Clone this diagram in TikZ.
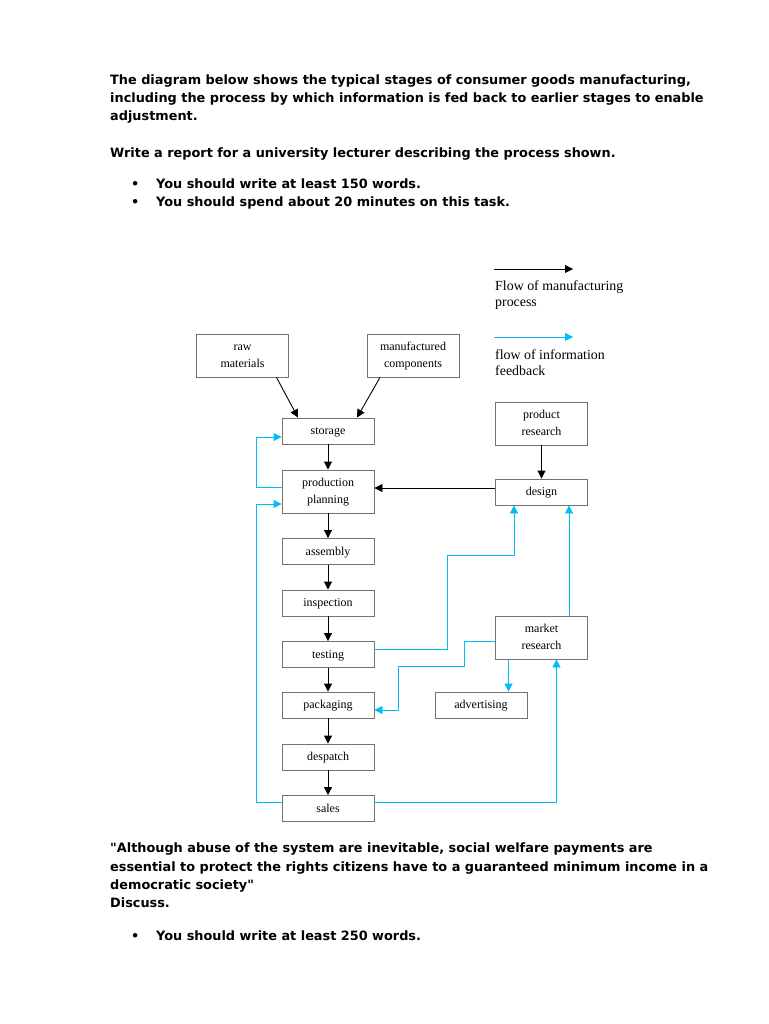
\documentclass[tikz,border=0pt]{standalone}
\usepackage{fontspec}
\setmainfont{Liberation Serif}
\newfontfamily\headfont{DejaVu Sans}
\usetikzlibrary{arrows.meta}
\definecolor{feedblue}{RGB}{0,190,245}

\newcommand{\twolines}[2]{\rule{0pt}{10pt}#1\\#2\rule[-3pt]{0pt}{3pt}}

\tikzset{
	box/.style={draw=black!55,line width=0.9pt,minimum width=92pt,inner sep=0pt,font=\fontsize{12}{17.5}\selectfont},
	stage/.style={box,minimum height=26pt,text height=10pt,text depth=3pt},
	tall/.style={box,minimum height=43pt,align=center},
	flow/.style={line width=0.9pt,-{Triangle[length=8pt,width=8pt]}},
	feed/.style={feedblue,line width=0.9pt,-{Triangle[length=8pt,width=8pt]}},
	task/.style={anchor=base west,inner sep=0pt,font=\headfont\bfseries\fontsize{12.85}{18}\selectfont},
	legend/.style={anchor=base west,inner sep=0pt,align=left,font=\fontsize{13.9}{16.5}\selectfont},
}

\begin{document}
\begin{tikzpicture}[x=1pt,y=-1pt]
			\useasboundingbox[fill=white] (0,0) rectangle (768,1024);

			\node[task] (h1) at (110,85) {The diagram below shows the typical stages of consumer goods manufacturing,};
			\node[task] (h2) at (110,103) {including the process by which information is fed back to earlier stages to enable};
			\node[task] (h3) at (110,121) {adjustment.};
			\node[task] (h4) at (110,157.5) {Write a report for a university lecturer describing the process shown.};
			\node[task] (b1) at (131,188.5) {•};
			\node[task] (t1) at (156,188.5) {You should write at least 150 words.};
			\node[task] (b2) at (131,206.5) {•};
			\node[task] (t2) at (156,206.5) {You should spend about 20 minutes on this task.};

			\coordinate (legflow) at (494,269);
			\coordinate (legfeed) at (494,337);
			\draw[flow] (legflow) -- ++(79,0);
			\node[legend] (legflowtext) at (495,306.5) {Flow of manufacturing\\process};
			\draw[feed] (legfeed) -- ++(79,0);
			\node[legend] (legfeedtext) at (495,375.5) {flow of information\\feedback};

			\node[tall] (raw) at (242.5,355.5) {\twolines{raw}{materials}};
			\node[tall] (comp) at (413,355.5) {\twolines{manufactured}{components}};
			\node[stage] (storage) at (328,431) {storage};
			\node[tall] (plan) at (328,491.5) {\twolines{production}{planning}};
			\node[stage] (assembly) at (328,551.5) {assembly};
			\node[stage] (inspect) at (328,603) {inspection};
			\node[stage] (testing) at (328,654.5) {testing};
			\node[stage] (packaging) at (328,705) {packaging};
			\node[stage] (despatch) at (328,757) {despatch};
			\node[stage] (sales) at (328,808.5) {sales};
			\node[tall] (prodres) at (541.5,423.5) {\twolines{product}{research}};
			\node[stage] (design) at (541.5,492) {design};
			\node[tall] (market) at (541.5,637.5) {\twolines{market}{research}};
			\node[stage] (advert) at (481,705) {advertising};

			\draw[flow] ([xshift=34pt]raw.south) -- ([xshift=-30pt]storage.north);
			\draw[flow] ([xshift=-33pt]comp.south) -- ([xshift=29pt]storage.north);
			\foreach \a/\b in {storage/plan,plan/assembly,assembly/inspect,inspect/testing,testing/packaging,packaging/despatch,despatch/sales}
				\draw[flow] (\a.south) -- (\b.north);
			\draw[flow] (prodres) -- (design);
			\draw[flow] ([yshift=4pt]design.west) -- ([yshift=4pt]design.west -| plan.east);

			\coordinate (testjog) at (447,555);
			\coordinate (marketjog1) at (464,666);
			\coordinate (marketjog2) at (398,666);
			\draw[feed] ([yshift=4.5pt]plan.west) -- ++(-25,0) |- ([yshift=-6pt]storage.west);
			\draw[feed] ([yshift=6pt]sales.west) -- ++(-25,0) |- ([yshift=-12.5pt]plan.west);
			\draw[feed] ([yshift=5.5pt]testing.east) -| (testjog) -| ([xshift=-27.5pt]design.south);
			\draw[feed] ([xshift=27.5pt]market.north) -- ([xshift=27.5pt]design.south);
			\draw[feed] ([yshift=-4pt]market.west) -| (marketjog1) -- (marketjog2) |- ([yshift=-5pt]packaging.east);
			\draw[feed] ([xshift=-33pt]market.south) -- ([xshift=-33pt]market.south |- advert.north);
			\draw[feed] ([yshift=6pt]sales.east) -| ([xshift=15pt]market.south);

			\node[task] (q1) at (110,852.5) {"Although abuse of the system are inevitable, social welfare payments are};
			\node[task] (q2) at (110,871) {essential to protect the rights citizens have to a guaranteed minimum income in a};
			\node[task] (q3) at (110,889.5) {democratic society"};
			\node[task] (q4) at (110,907.5) {Discuss.};
			\node[task] (b3) at (131,940.5) {•};
			\node[task] (t3) at (156,940.5) {You should write at least 250 words.};
		\end{tikzpicture}
\end{document}
